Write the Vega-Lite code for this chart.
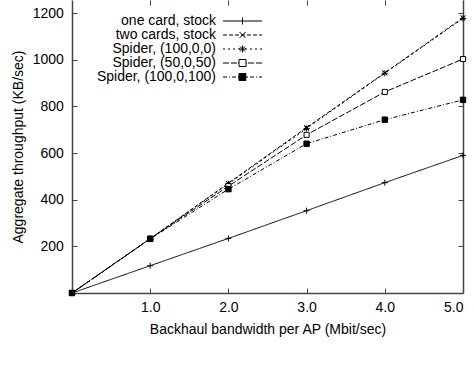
{
  "$schema": "https://vega.github.io/schema/vega-lite/v6.json",
  "width": 391,
  "height": 293,
  "autosize": "none",
  "padding": {"left": 72, "top": 0, "right": 11, "bottom": 72},
  "background": "white",
  "config": {"view": {"stroke": null}, "font": "Liberation Sans"},
  "data": {
    "values": [
      {"series": "one card, stock", "bw": 0, "tp": 0},
      {"series": "one card, stock", "bw": 1, "tp": 117},
      {"series": "one card, stock", "bw": 2, "tp": 234},
      {"series": "one card, stock", "bw": 3, "tp": 353},
      {"series": "one card, stock", "bw": 4, "tp": 473},
      {"series": "one card, stock", "bw": 5, "tp": 590},
      {"series": "two cards, stock", "bw": 0, "tp": 0},
      {"series": "two cards, stock", "bw": 1, "tp": 233},
      {"series": "two cards, stock", "bw": 2, "tp": 471},
      {"series": "two cards, stock", "bw": 3, "tp": 709},
      {"series": "two cards, stock", "bw": 4, "tp": 944},
      {"series": "two cards, stock", "bw": 5, "tp": 1180},
      {"series": "Spider, (100,0,0)", "bw": 0, "tp": 0},
      {"series": "Spider, (100,0,0)", "bw": 1, "tp": 233},
      {"series": "Spider, (100,0,0)", "bw": 2, "tp": 468},
      {"series": "Spider, (100,0,0)", "bw": 3, "tp": 705},
      {"series": "Spider, (100,0,0)", "bw": 4, "tp": 942},
      {"series": "Spider, (100,0,0)", "bw": 5, "tp": 1177},
      {"series": "Spider, (50,0,50)", "bw": 0, "tp": 0},
      {"series": "Spider, (50,0,50)", "bw": 1, "tp": 233},
      {"series": "Spider, (50,0,50)", "bw": 2, "tp": 458},
      {"series": "Spider, (50,0,50)", "bw": 3, "tp": 678},
      {"series": "Spider, (50,0,50)", "bw": 4, "tp": 862},
      {"series": "Spider, (50,0,50)", "bw": 5, "tp": 1003},
      {"series": "Spider, (100,0,100)", "bw": 0, "tp": 0},
      {"series": "Spider, (100,0,100)", "bw": 1, "tp": 232},
      {"series": "Spider, (100,0,100)", "bw": 2, "tp": 445},
      {"series": "Spider, (100,0,100)", "bw": 3, "tp": 640},
      {"series": "Spider, (100,0,100)", "bw": 4, "tp": 743},
      {"series": "Spider, (100,0,100)", "bw": 5, "tp": 828}
    ]
  },
  "layer": [
    {
      "mark": {"type": "line", "stroke": "black", "strokeWidth": 1},
      "encoding": {
        "x": {
          "field": "bw", "type": "quantitative",
          "scale": {"domain": [0, 5], "nice": false},
          "axis": {
            "orient": "bottom", "values": [1, 2, 3, 4, 5], "format": ".1f",
            "tickSize": -5, "labelPadding": 12, "labelFontSize": 14, "labelColor": "black",
            "labelFont": "Liberation Sans", "title": "Backhaul bandwidth per AP (Mbit/sec)",
            "titleFont": "Liberation Sans", "titleFontSize": 14, "titleFontWeight": "normal",
            "titleColor": "black", "titlePadding": 8, "grid": false,
            "domainColor": "#444", "domainWidth": 1.5, "tickColor": "#444"
          }
        },
        "y": {
          "field": "tp", "type": "quantitative",
          "scale": {"domain": [0, 1256], "nice": false},
          "axis": {
            "orient": "left", "values": [200, 400, 600, 800, 1000, 1200], "format": "d",
            "tickSize": -5, "labelPadding": 13.7, "labelFontSize": 14, "labelColor": "black",
            "labelFont": "Liberation Sans", "title": "Aggregate throughput (KB/sec)",
            "titleFont": "Liberation Sans", "titleFontSize": 14, "titleFontWeight": "normal",
            "titleColor": "black", "titlePadding": 7, "grid": false,
            "domainColor": "#444", "domainWidth": 1.5, "tickColor": "#444"
          }
        },
        "strokeDash": {
          "field": "series", "type": "nominal",
          "scale": {
            "domain": ["one card, stock", "two cards, stock", "Spider, (100,0,0)", "Spider, (50,0,50)", "Spider, (100,0,100)"],
            "range": [[1, 0], [4, 2], [2, 3], [6, 2], [4, 2, 1, 2]]
          },
          "legend": null
        }
      }
    },
    {
      "mark": {"type": "point", "filled": true, "stroke": "black", "strokeWidth": 1, "size": 36, "opacity": 1},
      "encoding": {
        "x": {
          "field": "bw", "type": "quantitative",
          "axis": {"orient": "top", "values": [1, 2, 3, 4, 5], "tickSize": -5, "labels": false, "domain": false, "title": null, "grid": false, "tickColor": "#444"}
        },
        "y": {
          "field": "tp", "type": "quantitative",
          "axis": {"orient": "right", "values": [200, 400, 600, 800, 1000, 1200], "tickSize": -5, "labels": false, "domain": true, "domainColor": "#444", "domainWidth": 1.5, "title": null, "grid": false, "tickColor": "#444"}
        },
        "shape": {
          "field": "series", "type": "nominal",
          "scale": {
            "domain": ["one card, stock", "two cards, stock", "Spider, (100,0,0)", "Spider, (50,0,50)", "Spider, (100,0,100)"],
            "range": [
              "M-1,0H1M0,-1V1",
              "M-0.8,-0.8L0.8,0.8M-0.8,0.8L0.8,-0.8",
              "M-1,0H1M0,-1V1M-0.7,-0.7L0.7,0.7M-0.7,0.7L0.7,-0.7",
              "M-0.85,-0.85H0.85V0.85H-0.85Z",
              "M-0.9,-0.9H0.9V0.9H-0.9Z"
            ]
          },
          "legend": null
        },
        "fill": {
          "field": "series", "type": "nominal",
          "scale": {
            "domain": ["one card, stock", "two cards, stock", "Spider, (100,0,0)", "Spider, (50,0,50)", "Spider, (100,0,100)"],
            "range": ["transparent", "transparent", "transparent", "white", "black"]
          },
          "legend": null
        }
      }
    },
    {
      "transform": [{"filter": "false"}],
      "mark": {"type": "point", "stroke": "black", "strokeWidth": 1, "size": 100, "opacity": 1},
      "encoding": {
        "shape": {
          "field": "series", "type": "nominal",
          "scale": {
            "domain": ["one card, stock", "two cards, stock", "Spider, (100,0,0)", "Spider, (50,0,50)", "Spider, (100,0,100)"],
            "range": [
              "M-3.9,0H3.9M0,-0.7V0.7",
              "M-3.9,0H-3.1M-2.7,0H-1.9M-1.5,0H-0.7M-0.3,0H0.5M0.9,0H1.7M2.1,0H2.9M3.3,0H3.9M-0.6,-0.6L0.6,0.6M-0.6,0.6L0.6,-0.6",
              "M-3.9,0H-3.5M-2.9,0H-2.5M-1.9,0H-1.5M-0.9,0H-0.5M0.5,0H0.9M1.5,0H1.9M2.5,0H2.9M3.5,0H3.9M-0.7,0H0.7M0,-0.7V0.7M-0.5,-0.5L0.5,0.5M-0.5,0.5L0.5,-0.5",
              "M-3.9,0H-2.7M-2.3,0H-1.1M-0.9,0H-0.7M0.7,0H0.9M1.1,0H2.3M2.7,0H3.9M-0.7,-0.7H0.7V0.7H-0.7Z",
              "M-3.9,0H-3.1M-2.7,0H-2.5M-2.1,0H-1.3M-0.9,0H-0.7M0.7,0H1.1M1.5,0H2.3M2.7,0H2.9M3.3,0H3.9M-0.7,-0.7H0.7V-0.5H-0.7V-0.3H0.7V-0.1H-0.7V0.1H0.7V0.3H-0.7V0.5H0.7V0.7H-0.7Z"
            ]
          },
          "legend": {
            "title": null, "orient": "none", "legendX": 163.5, "legendY": 14,
            "labelAlign": "right", "labelOffset": -33.5, "labelFontSize": 14,
            "labelColor": "black", "labelFont": "Liberation Sans", "labelLimit": 300,
            "labelBaseline": "middle", "symbolSize": 100, "symbolStrokeColor": "black",
            "symbolStrokeWidth": 1, "symbolFillColor": "white", "symbolOpacity": 1,
            "padding": 0, "rowPadding": 0
          }
        }
      }
    }
  ],
  "resolve": {"scale": {"shape": "independent"}, "axis": {"x": "independent", "y": "independent"}}
}
